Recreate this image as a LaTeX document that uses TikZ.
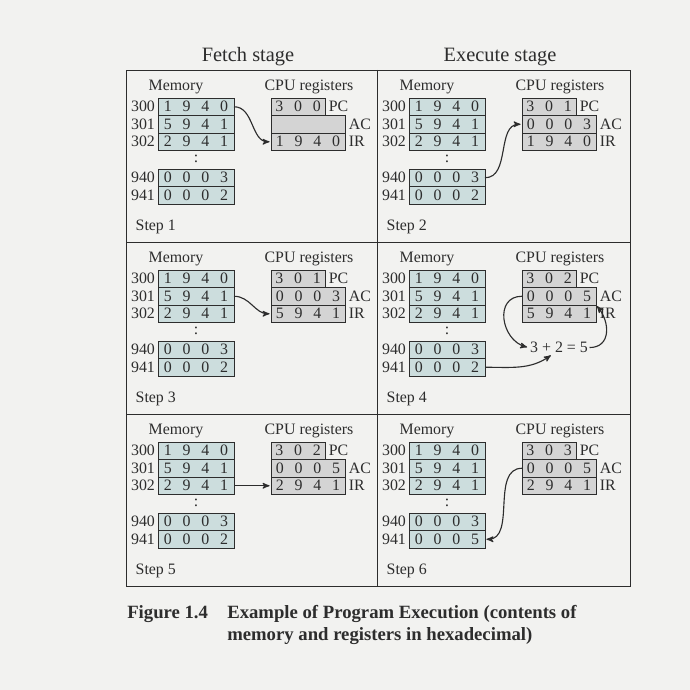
\documentclass[tikz,border=0pt]{standalone}
\usepackage{fontspec}
\setmainfont{Liberation Serif}
\usetikzlibrary{arrows,positioning}

\newcommand\hexw[4]{#1\hspace{.68em}#2\hspace{.68em}#3\hspace{.68em}#4}
\newcommand\hexp[3]{#1\hspace{.68em}#2\hspace{.68em}#3}
\definecolor{ink}{RGB}{45,45,45}
\definecolor{memfill}{RGB}{204,221,221}
\definecolor{regfill}{RGB}{212,212,212}
\definecolor{paper}{RGB}{242,242,240}

\begin{document}
\begin{tikzpicture}[
		x=0.025cm, y=0.025cm,
		>=stealth',
		font=\fontsize{11.3}{13}\selectfont,
		every node/.style={text=ink},
		cell/.style={draw=ink, inner sep=0, outer sep=0, minimum height=4.375mm},
		mem/.style={cell, fill=memfill, minimum width=19mm},
		reg/.style={cell, fill=regfill, minimum width=18.5mm},
		pcreg/.style={cell, fill=regfill, minimum width=13.5mm},
		lbl/.style={inner sep=1pt},
		arr/.style={->, draw=ink, thick, shorten >=1pt},
		caption/.style={font=\fontsize{13.3}{16}\selectfont\bfseries, anchor=north west, inner sep=0}]

	\fill[paper] (0,0) rectangle (690,-690);
	\useasboundingbox (0,0) rectangle (690,-690);

	% frame
	\draw[ink, semithick] (126,-70) rectangle (630,-586);
	\draw[ink, semithick] (377,-70) -- (377,-586);
	\draw[ink, semithick] (126,-242) -- (630,-242);
	\draw[ink, semithick] (126,-414) -- (630,-414);

	\node[font=\fontsize{14.5}{17}\selectfont] (fs) at (248,-57) {Fetch stage};
	\node[font=\fontsize{14.5}{17}\selectfont] (es) at (500,-57) {Execute stage};

	% one panel per step
	\foreach \s/\ox/\oy/\pc/\ac/\ir/\ml in {
		1/126/-70/300/{}{}{}{}/1940/0002,
		2/377/-70/301/0003/1940/0002,
		3/126/-242/301/0003/5941/0002,
		4/377/-242/302/0005/5941/0002,
		5/126/-414/302/0005/2941/0002,
		6/377/-414/303/0005/2941/0005} {
		\begin{scope}[shift={(\ox,\oy)}]
			\node[lbl] (mt\s) at (50,-17) {Memory};
			\node[mem, anchor=north west] (p\s0) at (32,-28) {\hexw1940};
			\node[mem, below=0pt of p\s0] (p\s1) {\hexw5941};
			\node[mem, below=0pt of p\s1] (p\s2) {\hexw2941};
			\node[lbl] (dt\s) at (70,-89) {:};
			\node[mem, anchor=north west] (q\s0) at (32,-99) {\hexw0003};
			\node[mem, below=0pt of q\s0] (q\s1) {\expandafter\hexw\ml};

			\node[lbl, left=1pt of p\s0] (a\s0) {300};
			\node[lbl, left=1pt of p\s1] (a\s1) {301};
			\node[lbl, left=1pt of p\s2] (a\s2) {302};
			\node[lbl, left=1pt of q\s0] (b\s0) {940};
			\node[lbl, left=1pt of q\s1] (b\s1) {941};

			\node[lbl] (ct\s) at (183,-17) {CPU registers};
			\node[pcreg, anchor=north west] (pc\s) at (145,-28) {\expandafter\hexp\pc};
			\node[reg, anchor=north west] (ac\s) at (pc\s.south west) {\expandafter\hexw\ac};
			\node[reg, below=0pt of ac\s] (ir\s) {\expandafter\hexw\ir};
			\node[lbl, right=1.5pt of pc\s] (lpc\s) {PC};
			\node[lbl, right=1.5pt of ac\s] (lac\s) {AC};
			\node[lbl, right=1.5pt of ir\s] (lir\s) {IR};

			\node[lbl, anchor=west] (st\s) at (8,-157) {Step \s};
		\end{scope}
	}

	\node[lbl] (sum) [below=4.5mm of ir4] {3 + 2 = 5};

	\path[arr] (p10.east) to[out=0, in=180] (ir1.west);
	\path[arr] (q20.east) to[out=0, in=180] (ac2.west);
	\path[arr] (p31.east) to[out=0, in=180] (ir3.west);
	\path[arr] (ac4.west) to[out=180, in=165, looseness=1.4] (sum.west);
	\path[arr] (q41.east) to[out=0, in=215] ([xshift=-5pt]sum.south);
	\path[arr] (sum.east) to[out=0, in=-50, looseness=1.3] (ac4.south east);
	\path[arr] (p52.east) -- (ir5.west);
	\path[arr] (ac6.west) to[out=180, in=0] (q61.east);

	% caption
	\node[caption] (fig) at (127,-605) {Figure 1.4};
	\node[caption, align=left] (cap) at (227,-605) {Example of Program Execution (contents of\\memory and registers in hexadecimal)};
\end{tikzpicture}
\end{document}
